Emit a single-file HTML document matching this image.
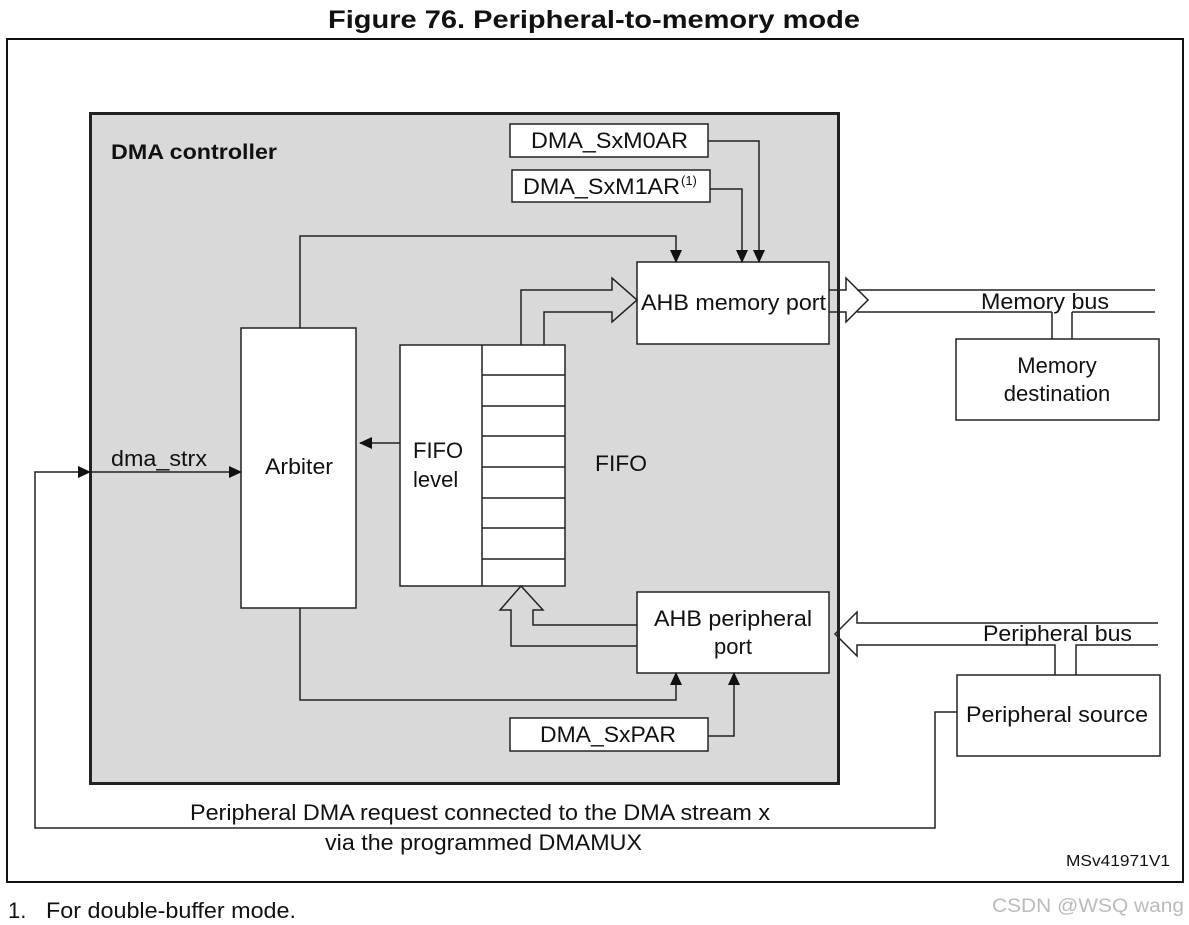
<!DOCTYPE html>
<html><head><meta charset="utf-8"><style>
html,body{margin:0;padding:0;background:#fff;}
svg{display:block;}
text{font-family:"Liberation Sans",Arial,sans-serif;fill:#111;}
</style></head><body>
<svg width="1189" height="925" viewBox="0 0 1189 925" xmlns="http://www.w3.org/2000/svg">
<defs>
<marker id="ah" markerWidth="13" markerHeight="12" refX="12" refY="6" orient="auto" markerUnits="userSpaceOnUse">
<path d="M0,0 L13,6 L0,12 z" fill="#111"/></marker>
</defs>
<text x="328" y="28" font-size="25" font-weight="bold" textLength="532" lengthAdjust="spacingAndGlyphs">Figure 76. Peripheral-to-memory mode</text>
<rect x="7" y="39" width="1176" height="843" fill="#fff" stroke="#111" stroke-width="2"/>
<rect x="90.5" y="113.5" width="748" height="670" fill="#d9d9d9" stroke="#222" stroke-width="3"/>
<text x="111" y="159" font-size="21" font-weight="bold" textLength="166" lengthAdjust="spacingAndGlyphs">DMA controller</text>

<g stroke="#222" stroke-width="1.5" fill="#fff">
<rect x="510" y="124" width="198" height="33"/>
<rect x="512" y="170" width="198" height="32"/>
<rect x="637" y="262" width="192" height="82"/>
<rect x="241" y="328" width="115" height="280"/>
<rect x="400" y="345" width="165" height="241"/>
<rect x="637" y="592" width="192" height="81"/>
<rect x="510" y="718" width="198" height="33"/>
<rect x="956" y="339" width="203" height="81"/>
<rect x="957" y="675" width="203" height="81"/>
</g>
<g stroke="#222" stroke-width="1.5" fill="none">
<line x1="482" y1="345" x2="482" y2="586"/>
<line x1="482" y1="375" x2="565" y2="375"/>
<line x1="482" y1="406" x2="565" y2="406"/>
<line x1="482" y1="436" x2="565" y2="436"/>
<line x1="482" y1="467" x2="565" y2="467"/>
<line x1="482" y1="498" x2="565" y2="498"/>
<line x1="482" y1="528" x2="565" y2="528"/>
<line x1="482" y1="559" x2="565" y2="559"/>
</g>
<g stroke="#222" stroke-width="1.5" fill="none" marker-end="url(#ah)">
<polyline points="708,141 759,141 759,262"/>
<polyline points="710,189 742,189 742,262"/>
<polyline points="300,328 300,236 676,236 676,262"/>
<line x1="400" y1="443" x2="360" y2="443"/>
<polyline points="300,608 300,700 676,700 676,673"/>
<polyline points="708,736 734,736 734,673"/>
<polyline points="957,712 935,712 935,828 35,828 35,472 90,472"/>
<line x1="90" y1="472" x2="241" y2="472"/>
</g>
<g stroke="#222" stroke-width="1.5" fill="none">
<path d="M521,345 V290 H612 V278 L637,300 L612,322 V312 H544 V345"/>
<path d="M829,290 H846 V278 L868,300 L846,322 V312 H829"/>
<line x1="857" y1="290" x2="1155" y2="290"/>
<line x1="857" y1="312" x2="1052" y2="312"/>
<line x1="1072" y1="312" x2="1155" y2="312"/>
<line x1="1052" y1="312" x2="1052" y2="339"/>
<line x1="1072" y1="312" x2="1072" y2="339"/>
<path d="M1158,623 H857 V612 L835,634 L857,656 V645 H1055 V675"/>
<path d="M1076,675 V645 H1158"/>
<path d="M637,646 H511 V610 H500 L521,586 L543,610 H533 V625 H637"/>
</g>
<g font-size="22">
<text x="531" y="148" textLength="157" lengthAdjust="spacingAndGlyphs">DMA_SxM0AR</text>
<text x="523" y="194" textLength="157" lengthAdjust="spacingAndGlyphs">DMA_SxM1AR</text>
<text x="681" y="185" font-size="13">(1)</text>
<text x="641" y="310" textLength="185" lengthAdjust="spacingAndGlyphs">AHB memory port</text>
<text x="265" y="474" textLength="68" lengthAdjust="spacingAndGlyphs">Arbiter</text>
<text x="413" y="458">FIFO</text>
<text x="413" y="487">level</text>
<text x="595" y="471" textLength="52" lengthAdjust="spacingAndGlyphs">FIFO</text>
<text x="654" y="626" textLength="158" lengthAdjust="spacingAndGlyphs">AHB peripheral</text>
<text x="733" y="654" text-anchor="middle">port</text>
<text x="540" y="742" textLength="136" lengthAdjust="spacingAndGlyphs">DMA_SxPAR</text>
<text x="111" y="466" textLength="96" lengthAdjust="spacingAndGlyphs">dma_strx</text>
<text x="981" y="309" textLength="128" lengthAdjust="spacingAndGlyphs">Memory bus</text>
<text x="1057" y="373" text-anchor="middle">Memory</text>
<text x="1057" y="401" text-anchor="middle">destination</text>
<text x="983" y="641" textLength="149" lengthAdjust="spacingAndGlyphs">Peripheral bus</text>
<text x="966" y="722" textLength="182" lengthAdjust="spacingAndGlyphs">Peripheral source</text>
<text x="190" y="820" textLength="580" lengthAdjust="spacingAndGlyphs">Peripheral DMA request connected to the DMA stream x</text>
<text x="325" y="850" textLength="317" lengthAdjust="spacingAndGlyphs">via the programmed DMAMUX</text>
<text x="8" y="918">1.</text>
<text x="46" y="918" textLength="250" lengthAdjust="spacingAndGlyphs">For double-buffer mode.</text>
</g>
<text x="1066" y="866" font-size="16" textLength="104" lengthAdjust="spacingAndGlyphs">MSv41971V1</text>
<text x="992" y="912" font-size="19" textLength="192" lengthAdjust="spacingAndGlyphs" style="fill:#bbb">CSDN @WSQ wang</text>
</svg>
</body></html>
